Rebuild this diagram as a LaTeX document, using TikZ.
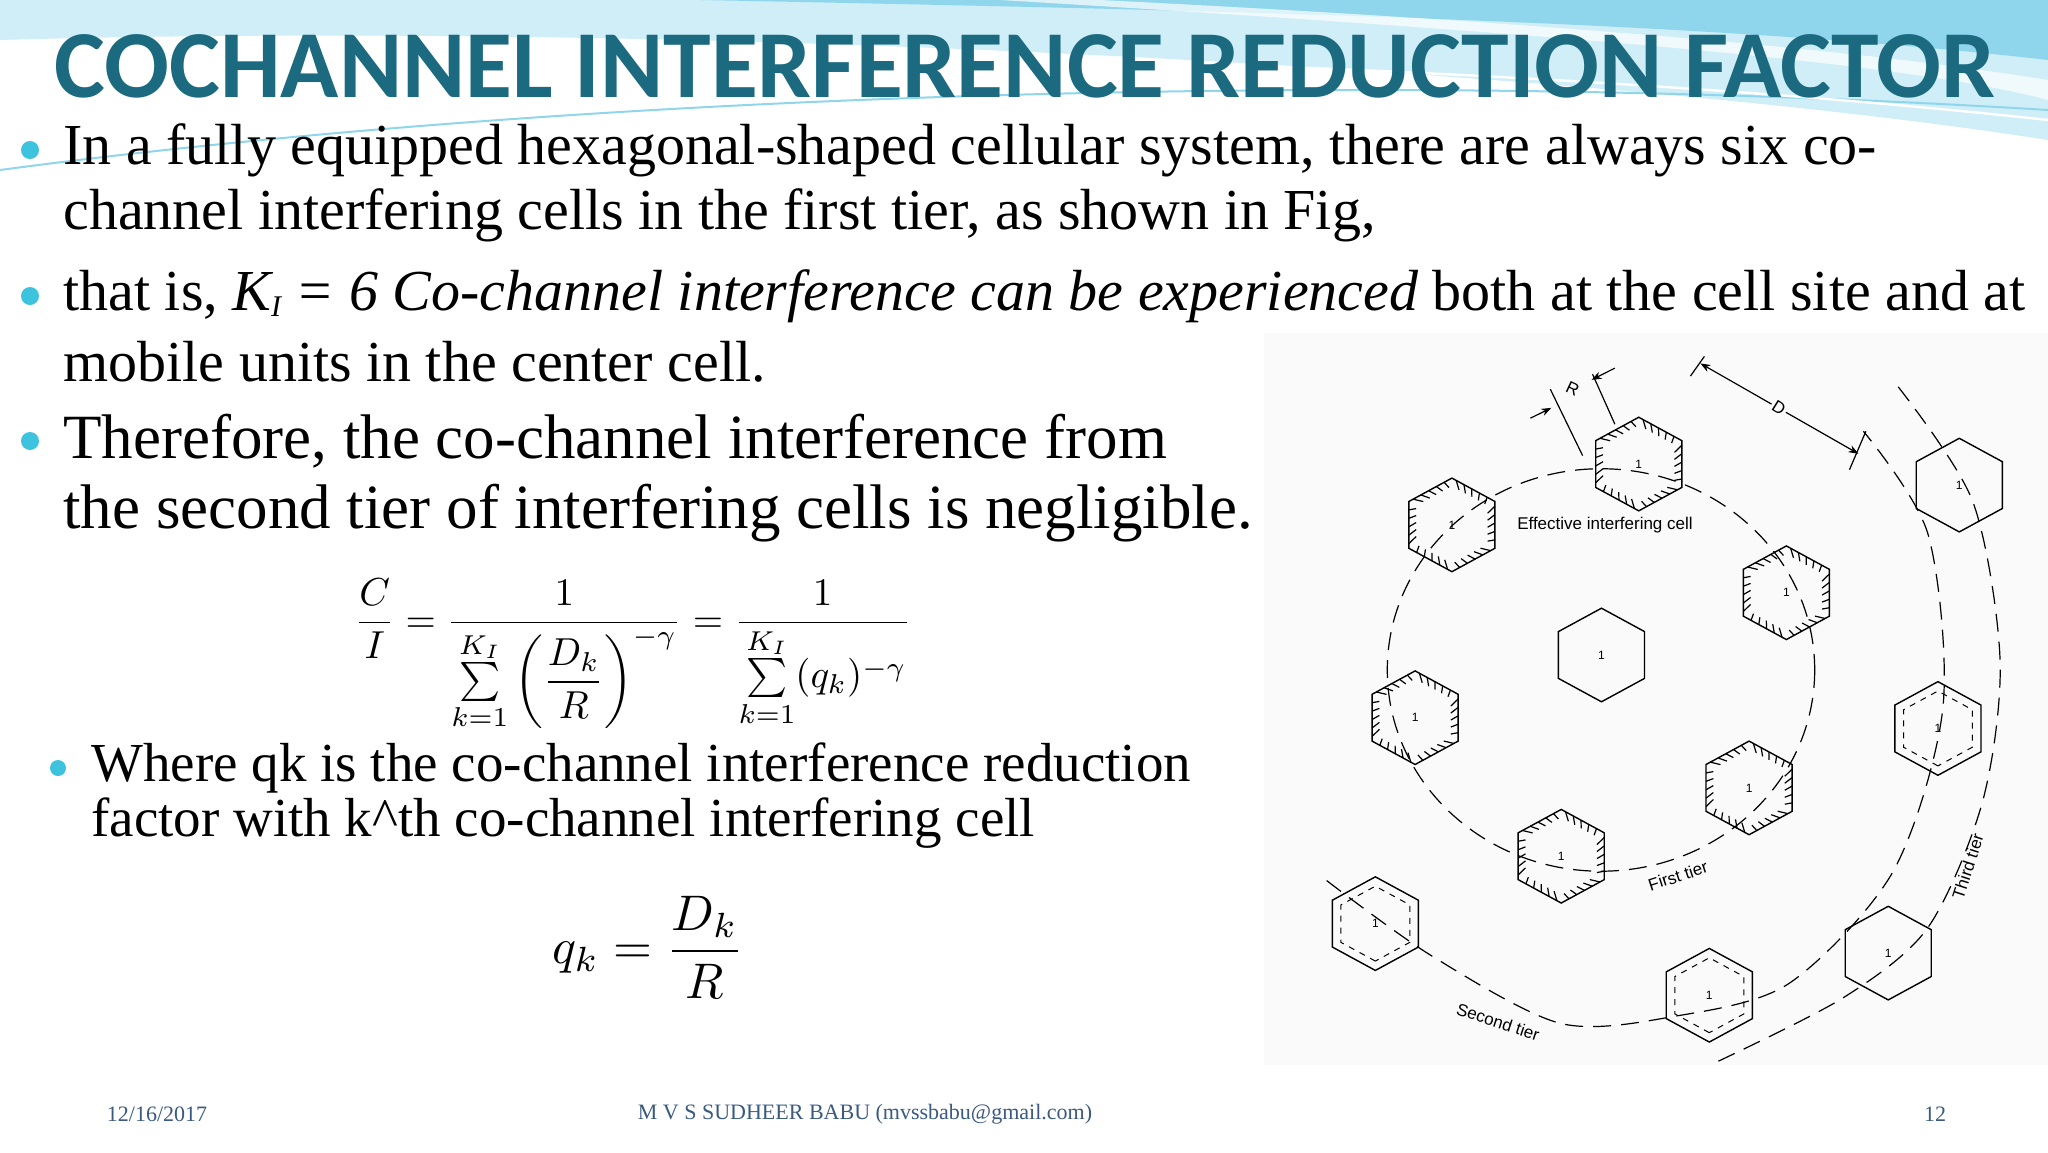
\documentclass[tikz,border=0pt]{standalone}
\usepackage{fontspec}
\usepackage{amsmath}
\setmainfont{Liberation Serif}
\newfontfamily\titlefont{Carlito}
\newfontfamily\figfont{Liberation Sans}
\usetikzlibrary{calc,arrows.meta}
\definecolor{titleblue}{HTML}{1B6A80}
\definecolor{bul}{HTML}{3EC3DE}
\definecolor{wave1}{HTML}{CFEEF7}
\definecolor{wave2}{HTML}{8FD6EC}
\definecolor{foot}{HTML}{3A5A80}
\tikzset{
 body/.style={anchor=west,inner sep=0pt,font=\fontsize{29}{32}\selectfont},
 bigbody/.style={anchor=west,inner sep=0pt,font=\fontsize{31.5}{34}\selectfont},
 smallbody/.style={anchor=west,inner sep=0pt,font=\fontsize{27.5}{30}\selectfont},
 bulletdot/.style={circle,fill=bul,inner sep=0pt,minimum size=9pt},
 footer/.style={font=\fontsize{11}{12}\selectfont,text=foot},
 tier/.style={dashed,dash pattern=on 9pt off 5pt,line width=0.6pt},
 hexline/.style={line width=0.7pt},
 figlab/.style={font=\figfont\fontsize{8.5}{10}\selectfont},
 onelab/.style={font=\figfont\fontsize{6}{7}\selectfont,inner sep=0pt}
}
\newcommand\plainhex[1]{\draw[hexline] ($(#1)+(90:100)$) \foreach \k in {1,...,5}{-- ($(#1)+({90+60*\k}:100)$)} -- cycle;
 \node[onelab] at (#1) {1};}
\newcommand\doublehex[1]{\plainhex{#1}\draw[dashed,line width=0.5pt] ($(#1)+(90:80)$) \foreach \k in {1,...,5}{-- ($(#1)+({90+60*\k}:80)$)} -- cycle;}
\newcommand\hatchhex[1]{\plainhex{#1}
 \foreach \k in {0,...,5}{
  \path ($(#1)+({90+60*\k}:100)$) coordinate (pa) ($(#1)+({150+60*\k}:100)$) coordinate (pb);
  \foreach \t in {0.1,0.28,...,0.9}{
   \pgfmathsetmacro\tt{\t+0.1}
   \draw[line width=0.6pt] ($(pa)!\t!(pb)$) -- ($(pa)!\tt!(pb)!0.17!(#1)$);}}}
\begin{document}
\begin{tikzpicture}[x=0.5pt,y=-0.5pt]
\useasboundingbox (0,0) rectangle (2048,1152);
\fill[white] (0,0) rectangle (2048,1152);
\fill[wave1] (0,0) -- (2048,0) -- (2048,140) .. controls (1600,70) and (700,20) .. (0,40) -- cycle;
\fill[wave2] (700,0) -- (2048,0) -- (2048,60) .. controls (1700,20) and (1200,10) .. (700,0) -- cycle;
\fill[white,opacity=0.7] (1000,0) .. controls (1500,30) and (1900,60) .. (2048,100) -- (2048,80) .. controls (1800,40) and (1400,15) .. (1100,0) -- cycle;
\draw[wave2,line width=1pt] (0,170) .. controls (600,90) and (1400,70) .. (2048,110);
\draw[white,line width=1.2pt] (0,60) .. controls (700,40) and (1500,60) .. (2048,120);
\node[font=\titlefont\bfseries\fontsize{48}{52}\selectfont,text=titleblue] (title) at (1025,66) {COCHANNEL INTERFERENCE REDUCTION FACTOR};
\node[bulletdot] (b1) at (30,150) {};
\node[body] (t1a) at (63,150) {In a fully equipped hexagonal-shaped cellular system, there are always six co-};
\node[body] (t1b) at (63,215) {channel interfering cells in the first tier, as shown in Fig,};
\node[bulletdot] (b2) at (30,296) {};
\node[body] (t2a) at (63,296) {that is, \textit{K\raisebox{-3pt}{\fontsize{15}{16}\selectfont I} = 6 Co-channel interference can be experienced} both at the cell site and at};
\node[body] (t2b) at (63,362) {mobile units in the center cell.};
\node[bulletdot] (b3) at (30,441) {};
\node[bigbody] (t3a) at (63,441) {Therefore, the co-channel interference from};
\node[bigbody] (t3b) at (63,513) {the second tier of interfering cells is negligible.};
\node[inner sep=0pt] (eq1) at (633,655) {\scalebox{1.95}{$\dfrac{C}{I}=\dfrac{1}{\sum\limits_{k=1}^{K_I}\left(\dfrac{D_k}{R}\right)^{-\gamma}}=\dfrac{1}{\sum\limits_{k=1}^{K_I}(q_k)^{-\gamma}}$}};
\node[bulletdot,minimum size=8pt] (b4) at (58,768) {};
\node[smallbody] (t4a) at (91,768) {Where qk is the co-channel interference reduction};
\node[smallbody] (t4b) at (91,823) {factor with k\^{}th co-channel interfering cell};
\node[inner sep=0pt] (eq2) at (648,947) {\scalebox{2.5}{$q_k=\dfrac{D_k}{R}$}};
\node[footer] (f1) at (157,1114) {12/16/2017};
\node[footer] (f2) at (865,1114) {M V S SUDHEER BABU (mvssbabu@gmail.com)};
\node[footer] (f3) at (1935,1114) {12};
\fill[black!2] (1264,333) rectangle (2048,1065);
\begin{scope}[shift={(1267,333)},xscale=0.497,yscale=0.468]
 \coordinate (c0) at (673,688);
 \coordinate (h1) at (748,280); \coordinate (h2) at (372,410); \coordinate (h3) at (1045,555);
 \coordinate (h4) at (298,822); \coordinate (h5) at (970,972); \coordinate (h6) at (592,1118);
 \coordinate (s1) at (218,1262); \coordinate (s2) at (890,1415); \coordinate (s3) at (1350,845);
 \coordinate (r1) at (1393,325); \coordinate (r2) at (1250,1325);
 \draw[tier] (672,720) circle [radius=430];
 \draw[tier] plot[smooth] coordinates {(120,1170) (330,1330) (590,1475) (820,1460) (1050,1390) (1260,1150) (1360,800) (1330,430) (1200,210)};
 \draw[tier] plot[smooth] coordinates {(1270,115) (1420,360) (1475,700) (1440,1000) (1330,1270) (1160,1420) (900,1560)};
 \plainhex{c0}
 \foreach \h in {h1,h2,h3,h4,h5,h6}{\hatchhex{\h}}
 \foreach \h in {s1,s2,s3}{\doublehex{\h}}
 \plainhex{r1} \plainhex{r2}
 \draw[line width=0.6pt] (635,262) -- (570,120); \draw[line width=0.6pt] (700,195) -- (655,88);
 \draw[-{Stealth[length=5pt]},line width=0.6pt] (530,182) -- (572,160);
 \draw[-{Stealth[length=5pt]},line width=0.6pt] (700,75) -- (653,100);
 \node[figlab,rotate=-25] (Rl) at (615,120) {R};
 \draw[line width=0.6pt] (880,50) -- (852,92); \draw[line width=0.6pt] (1205,210) -- (1172,292);
 \draw[{Stealth[length=5pt]}-{Stealth[length=5pt]},line width=0.6pt] (872,65) -- (1190,258);
 \node[figlab,rotate=-32,fill=black!2,inner sep=1pt] (Dl) at (1030,160) {D};
 \node[figlab] (eff) at (680,410) {Effective interfering cell};
 \node[figlab,rotate=18] (ft) at (827,1160) {First tier};
 \node[figlab,rotate=-18] (st) at (465,1472) {Second tier};
 \node[figlab,rotate=72] (tt) at (1410,1140) {Third tier};
\end{scope}
\end{tikzpicture}
\end{document}
